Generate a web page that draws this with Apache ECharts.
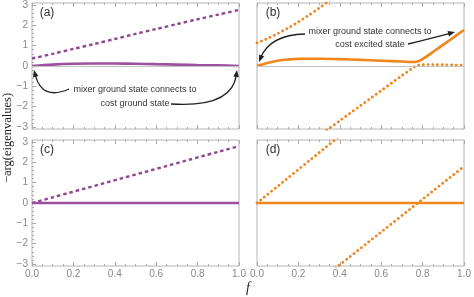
<!DOCTYPE html>
<html>
<head>
<meta charset="utf-8">
<script src="https://cdn.jsdelivr.net/npm/echarts@6/dist/echarts.min.js"></script>
<style>html,body{margin:0;padding:0;background:#fff}#chart{width:474px;height:297px}</style>
</head>
<body>
<div id="chart"></div>
<script>
const yTicks = [-3, -2, -1, 0, 1, 2, 3]
const yMinor = [-3, -2.8, -2.6, -2.4, -2.2, -2, -1.8, -1.6, -1.4, -1.2, -1, -0.8, -0.6, -0.4, -0.2, 0,
  0.2, 0.4, 0.6, 0.8, 1, 1.2, 1.4, 1.6, 1.8, 2, 2.2, 2.4, 2.6, 2.8, 3]
const panelTags = ["(a)", "(b)", "(c)", "(d)"]

// (a) mixer -> cost ground state
const aF = [0, 0.1, 0.2, 0.3, 0.4, 0.5, 0.6, 0.7, 0.8, 0.9, 1.0]
const aSolid = [0, 0.07, 0.11, 0.12, 0.12, 0.11, 0.09, 0.07, 0.05, 0.03, 0]
const aDotted = [0.37, 0.6, 0.84, 1.08, 1.33, 1.58, 1.82, 2.06, 2.3, 2.53, 2.76]

// (b) mixer -> cost excited state
const bSolidF = [0, 0.05, 0.1, 0.15, 0.2, 0.25, 0.3, 0.4, 0.5, 0.6, 0.7, 0.75, 0.77, 0.79, 0.82, 0.86, 0.9, 0.95, 1.0]
const bSolid = [0, 0.15, 0.26, 0.32, 0.35, 0.36, 0.36, 0.34, 0.3, 0.26, 0.22, 0.2, 0.21, 0.28, 0.47, 0.76, 1.05, 1.41, 1.77]
const bUpperF = [0, 0.05, 0.1, 0.15, 0.2, 0.25, 0.3, 0.35, 0.4]
const bUpper = [1.14, 1.35, 1.6, 1.87, 2.17, 2.5, 2.85, 3.22, 3.6]
const bLowerF = [0.3, 0.35, 0.4, 0.45, 0.5, 0.55, 0.6, 0.65, 0.7, 0.75, 0.77, 0.8, 0.85, 0.9, 0.95, 1.0]
const bLower = [-3.43, -3.06, -2.69, -2.32, -1.95, -1.58, -1.21, -0.84, -0.47, -0.12, 0.02, 0.06, 0.07, 0.06, 0.05, 0.03]

// (c)
const cF = [0, 1]
const cSolid = [0, 0]
const cDotted = [0, 2.8]

// (d)
const dF = [0, 1]
const dSolid = [0, 0]
const dUpperF = [0, 0.4]
const dUpper = [0, 3.3]
const dLowerF = [0.38, 1]
const dLower = [-3.2, 1.8]

const zip = (xs, ys) => xs.map((x, i) => [x, ys[i]])

const purple = "#9d50a0"
const purpleDot = "#8e4790"
const orange = "#f0861d"
const frame = "#b4b4b4"
const tickColor = "#aaaaaa"

const boxes = [
  { left: 32, top: 3, width: 207, height: 126 },
  { left: 257, top: 3, width: 207, height: 126 },
  { left: 32, top: 140, width: 207, height: 126 },
  { left: 257, top: 140, width: 207, height: 126 }
]

const grids = boxes.map(b => ({ ...b, show: true, borderColor: frame, borderWidth: 1, backgroundColor: "transparent" }))

const xAxes = []
const yAxes = []
boxes.forEach((b, i) => {
  const bottomRow = i >= 2
  xAxes.push({
    type: "value", gridIndex: i, min: 0, max: 1, interval: 0.2, position: "bottom",
    axisLine: { show: false, onZero: false },
    axisTick: { show: true, inside: true, length: 4, lineStyle: { color: tickColor } },
    minorTick: { show: true, splitNumber: 4, length: 2, lineStyle: { color: tickColor } },
    splitLine: { show: false },
    axisLabel: {
      show: bottomRow, color: "#888", fontSize: 10, margin: 3,
      fontFamily: "Liberation Sans, Arial, sans-serif",
      formatter: v => v.toFixed(1)
    }
  })
  xAxes.push({
    type: "value", gridIndex: i, min: 0, max: 1, interval: 0.2, position: "top",
    axisLine: { show: false, onZero: false },
    axisTick: { show: true, inside: true, length: 4, lineStyle: { color: tickColor } },
    minorTick: { show: true, splitNumber: 4, length: 2, lineStyle: { color: tickColor } },
    splitLine: { show: false },
    axisLabel: { show: false }
  })
  const leftCol = i % 2 === 0
  yAxes.push({
    type: "value", gridIndex: i, min: -3.1, max: 3.1, position: "left",
    axisLine: { show: false, onZero: false },
    axisTick: { show: leftCol, inside: true, length: 4, customValues: yTicks, lineStyle: { color: tickColor } },
    splitLine: { show: false },
    axisLabel: {
      show: leftCol, customValues: yTicks, color: "#888", fontSize: 10, margin: 4,
      fontFamily: "Liberation Sans, Arial, sans-serif",
      formatter: v => String(v).replace("-", "\u2212")
    }
  })
  yAxes.push({
    type: "value", gridIndex: i, min: -3.1, max: 3.1, position: "left",
    axisLine: { show: false, onZero: false },
    axisTick: { show: leftCol, inside: true, length: 2, customValues: yMinor, lineStyle: { color: tickColor } },
    splitLine: { show: false },
    axisLabel: { show: false }
  })
})

const solid = (i, data, color) => ({
  type: "line", xAxisIndex: 2 * i, yAxisIndex: 2 * i, data, showSymbol: false, smooth: 0.3,
  lineStyle: { color, width: 2.6 }, z: 4, silent: true, animation: false
})
const dashed = (i, data, color) => ({
  type: "line", xAxisIndex: 2 * i, yAxisIndex: 2 * i, data, showSymbol: false, smooth: 0.3,
  lineStyle: { color, width: 2.4, type: [3.5, 3] }, z: 3, silent: true, animation: false
})
const dotted = (i, data, color) => ({
  type: "line", xAxisIndex: 2 * i, yAxisIndex: 2 * i, data, showSymbol: false, smooth: 0.3,
  lineStyle: { color, width: 2.8, type: [0.1, 4.6], cap: "round" }, z: 3, silent: true, animation: false
})

const zeroLine = {
  silent: true, symbol: "none", animation: false, label: { show: false },
  lineStyle: { color: "#c4c4c4", width: 1, type: "solid" },
  data: [{ yAxis: 0 }]
}

const series = [
  { ...dashed(0, zip(aF, aDotted), purpleDot), markLine: zeroLine },
  solid(0, zip(aF, aSolid), purple),
  { ...dotted(1, zip(bLowerF, bLower), orange), markLine: zeroLine },
  dotted(1, zip(bUpperF, bUpper), orange),
  solid(1, zip(bSolidF, bSolid), orange),
  dashed(2, zip(cF, cDotted), purpleDot),
  solid(2, zip(cF, cSolid), purple),
  dotted(3, zip(dUpperF, dUpper), orange),
  dotted(3, zip(dLowerF, dLower), orange),
  solid(3, zip(dF, dSolid), orange)
]

// curved annotation arrow: tail (x1,y1), control (cx,cy), tip (x2,y2)
const arrow = (x1, y1, cx, cy, x2, y2) => {
  const ang = Math.atan2(y2 - cy, x2 - cx)
  const len = 7, half = 2.8
  const bx = x2 - len * Math.cos(ang), by = y2 - len * Math.sin(ang)
  const px = -Math.sin(ang) * half, py = Math.cos(ang) * half
  return [
    {
      type: "bezierCurve", silent: true, z: 10,
      shape: { x1, y1, cpx1: cx, cpy1: cy, x2: bx + 2 * Math.cos(ang), y2: by + 2 * Math.sin(ang) },
      style: { stroke: "#222", lineWidth: 1.3, fill: null }
    },
    {
      type: "polygon", silent: true, z: 10,
      shape: { points: [[x2, y2], [bx + px, by + py], [bx - px, by - py]] },
      style: { fill: "#222" }
    }
  ]
}

const note = (x, y, text) => ({
  type: "text", x, y, silent: true, z: 10,
  style: { text, fill: "#333", font: "9px 'Liberation Sans', Arial, sans-serif", align: "center", verticalAlign: "middle" }
})

const tagPos = [[47, 13], [273, 13], [47, 150], [273, 150]]

const graphic = [
  ...panelTags.map((t, i) => ({
    type: "text", x: tagPos[i][0], y: tagPos[i][1], silent: true, z: 10,
    style: { text: t, fill: "#333", font: "12px 'Liberation Sans', Arial, sans-serif", align: "center", verticalAlign: "middle" }
  })),
  note(135, 90, "mixer ground state connects to"),
  note(135, 104, "cost ground state"),
  ...arrow(69, 89, 42, 101, 34, 70),
  ...arrow(171, 104, 232, 108, 237, 70),
  note(370, 32, "mixer ground state connects to"),
  note(370, 45, "cost excited state"),
  ...arrow(305, 34, 270, 35, 259, 62),
  ...arrow(408, 44, 432, 38, 455, 32),
  {
    type: "text", x: 8, y: 138, rotation: Math.PI / 2, silent: true,
    style: { text: "\u2212arg(eigenvalues)", fill: "#222", font: "12.5px 'Liberation Serif', 'DejaVu Serif', serif", align: "center", verticalAlign: "middle" }
  },
  {
    type: "text", x: 248, y: 288, silent: true,
    style: { text: "f", fill: "#222", font: "italic 14px 'Liberation Serif', 'DejaVu Serif', serif", align: "center", verticalAlign: "middle" }
  }
]

const myChart = echarts.init(document.getElementById("chart"))
myChart.setOption({
  animation: false,
  backgroundColor: "#fff",
  grid: grids,
  xAxis: xAxes,
  yAxis: yAxes,
  series,
  graphic
})
</script>
</body>
</html>
